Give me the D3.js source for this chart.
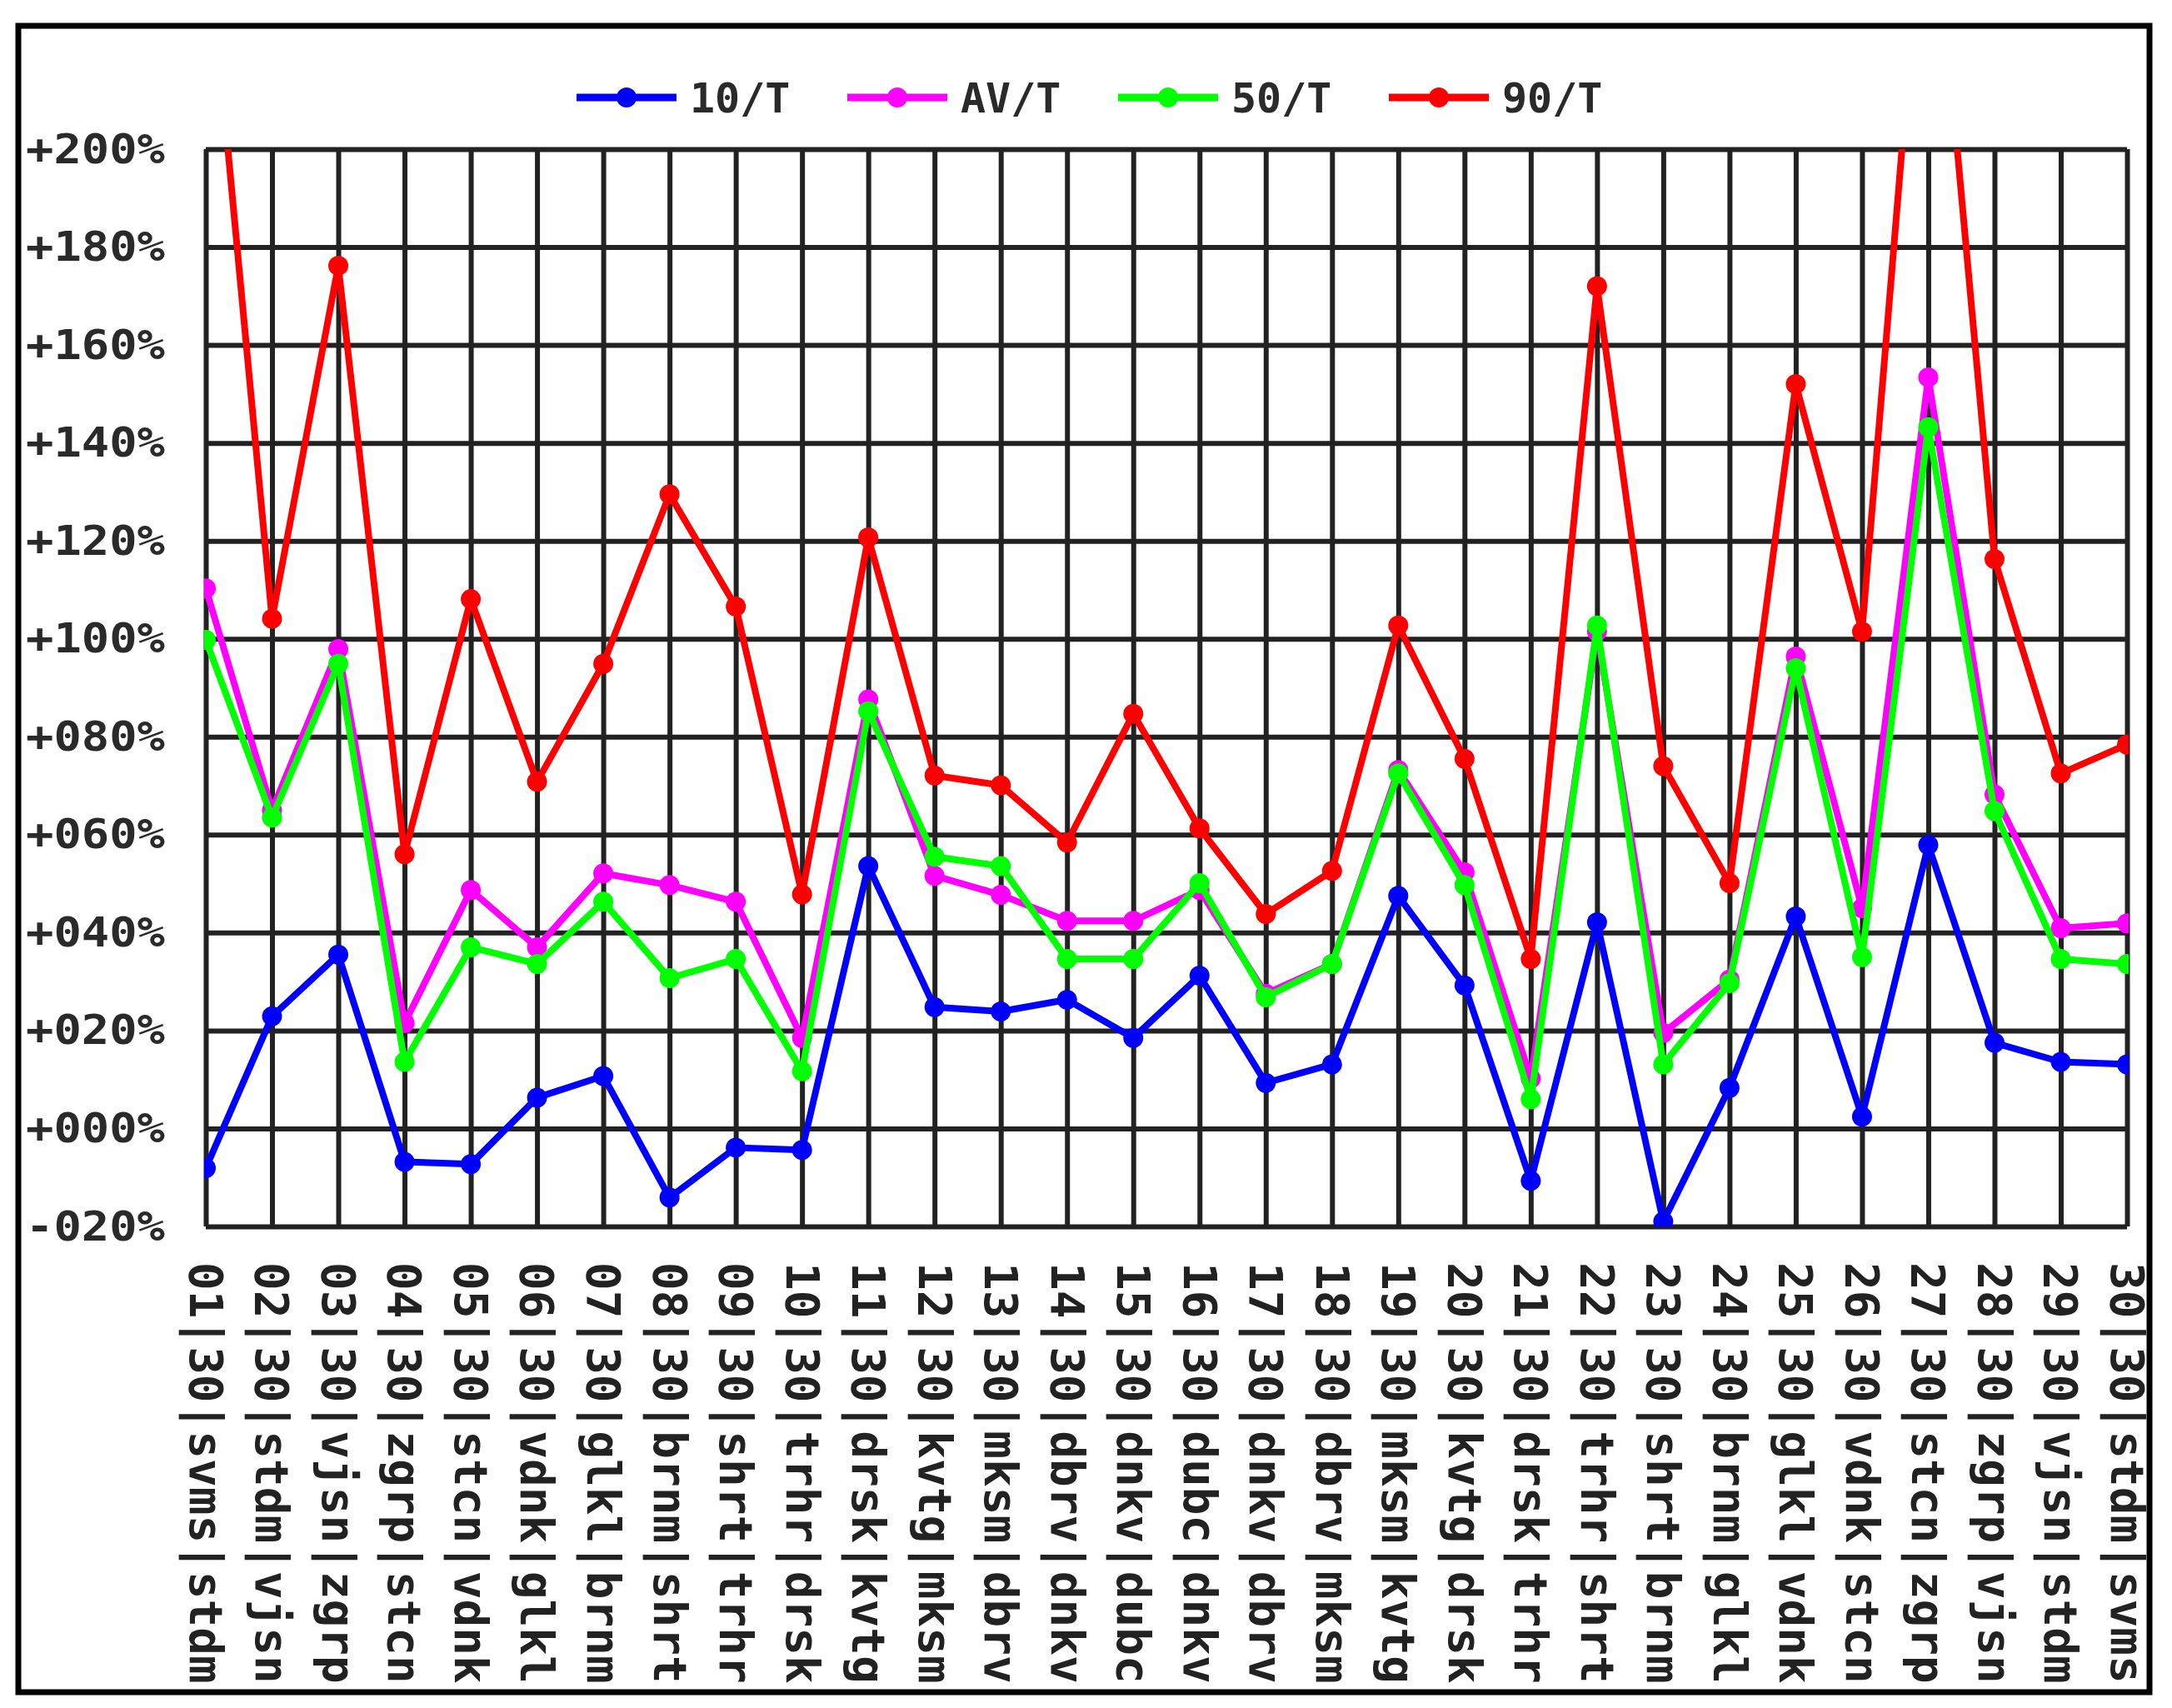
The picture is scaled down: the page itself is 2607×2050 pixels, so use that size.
<!DOCTYPE html>
<html>
<head>
<meta charset="utf-8">
<script src="https://cdn.jsdelivr.net/npm/d3@7"></script>
<style>
    body { margin: 0; background: #ffffff; }
    text { font-family: 'DejaVu Sans Mono', monospace; font-weight: bold; }
</style>
</head>
<body>
<svg id="chart"></svg>
<script>
const categories = [
    '01|30|svms|stdm', '02|30|stdm|vjsn', '03|30|vjsn|zgrp', '04|30|zgrp|stcn', '05|30|stcn|vdnk',
    '06|30|vdnk|glkl', '07|30|glkl|brnm', '08|30|brnm|shrt', '09|30|shrt|trhr', '10|30|trhr|drsk',
    '11|30|drsk|kvtg', '12|30|kvtg|mksm', '13|30|mksm|dbrv', '14|30|dbrv|dnkv', '15|30|dnkv|dubc',
    '16|30|dubc|dnkv', '17|30|dnkv|dbrv', '18|30|dbrv|mksm', '19|30|mksm|kvtg', '20|30|kvtg|drsk',
    '21|30|drsk|trhr', '22|30|trhr|shrt', '23|30|shrt|brnm', '24|30|brnm|glkl', '25|30|glkl|vdnk',
    '26|30|vdnk|stcn', '27|30|stcn|zgrp', '28|30|zgrp|vjsn', '29|30|vjsn|stdm', '30|30|stdm|svms'
];

const seriesNames = ['10/T', 'AV/T', '50/T', '90/T'];
const seriesColors = ['#0000ff', '#ff00ff', '#00ff00', '#ff0000'];

const p10 = [-8.1, 22.9, 35.5, -6.8, -7.3, 6.3, 10.7, -14.1, -3.9, -4.4,
    53.6, 24.8, 23.9, 26.3, 18.5, 31.2, 9.3, 13.1, 47.5, 29.2,
    -10.7, 42.1, -19.0, 8.3, 43.3, 2.4, 57.9, 17.5, 13.6, 13.1];
const pAV = [110.3, 65.0, 97.9, 21.5, 48.7, 37.0, 52.1, 49.7, 46.3, 18.5,
    87.6, 51.6, 47.7, 42.4, 42.4, 48.7, 27.5, 33.6, 73.2, 52.3,
    10.2, 101.5, 19.5, 30.4, 96.4, 45.0, 153.4, 68.2, 40.9, 41.9];
const p50 = [99.8, 63.5, 94.9, 13.6, 37.0, 33.6, 46.3, 30.7, 34.6, 11.7,
    85.2, 55.5, 53.6, 34.6, 34.6, 50.1, 26.8, 33.6, 72.5, 49.7,
    6.0, 102.7, 13.1, 29.7, 94.0, 35.0, 143.2, 64.8, 34.6, 33.6];
const p90 = [248.0, 104.1, 176.2, 56.0, 108.1, 70.8, 94.9, 129.5, 106.6, 47.8,
    120.7, 72.1, 70.1, 58.4, 84.7, 61.3, 43.8, 52.6, 102.7, 75.5,
    34.6, 172.0, 74.0, 50.1, 152.0, 101.5, 265.0, 116.3, 72.5, 78.4];

const yTicks = [-20, 0, 20, 40, 60, 80, 100, 120, 140, 160, 180, 200];

class PercentLineChart {

    constructor( config, series ){
        this.config = {
            parent: config.parent,
            width: config.width || 256,
            height: config.height || 256,
            margin: config.margin || {top:10, right:10, bottom:10, left:10}
        }
        this.series = series;
        this.init();
    }

    init(){
        let self = this;

        self.svg = d3.select( self.config.parent )
            .attr('width', self.config.width)
            .attr('height', self.config.height);

        // outer frame
        self.svg.append('rect')
            .attr('x', 22)
            .attr('y', 31)
            .attr('width', 2558)
            .attr('height', 2000)
            .attr('fill', 'none')
            .attr('stroke', '#000')
            .attr('stroke-width', 7);

        self.chart = self.svg.append('g')
            .attr('transform', `translate(${self.config.margin.left}, ${self.config.margin.top})`);

        self.inner_width = self.config.width - self.config.margin.left - self.config.margin.right;
        self.inner_height = self.config.height - self.config.margin.top - self.config.margin.bottom;

        self.xscale = d3.scalePoint()
            .domain( categories )
            .range( [0, self.inner_width] );

        self.yscale = d3.scaleLinear()
            .domain( [-20, 200] )
            .range( [self.inner_height, 0] );

        self.xaxis = d3.axisBottom( self.xscale )
            .tickSize( -self.inner_height )
            .tickPadding( 43 );

        self.yaxis = d3.axisLeft( self.yscale )
            .tickValues( yTicks )
            .tickSize( -self.inner_width )
            .tickPadding( 49 )
            .tickFormat( d => (d < 0 ? '-' : '+') + String(Math.abs(d)).padStart(3, '0') + '%' );

        self.svg.append('clipPath')
            .attr('id', 'plot-clip')
            .append('rect')
            .attr('x', -2)
            .attr('y', 0)
            .attr('width', self.inner_width + 4)
            .attr('height', self.inner_height);

        self.legend = self.svg.append('g')
            .attr('transform', 'translate(692, 117)');
    }

    render(){
        let self = this;

        const ygroup = self.chart.append('g').call( self.yaxis );
        ygroup.select('.domain').remove();
        ygroup.selectAll('line')
            .attr('stroke', '#222')
            .attr('stroke-width', 6);
        ygroup.selectAll('text')
            .attr('fill', '#2a2a2a')
            .style('font-size', '50px')
            .attr('textLength', 167)
            .attr('lengthAdjust', 'spacingAndGlyphs');

        const xgroup = self.chart.append('g')
            .attr('transform', `translate(0, ${self.inner_height})`)
            .call( self.xaxis );
        xgroup.select('.domain').remove();
        xgroup.selectAll('line')
            .attr('stroke', '#222')
            .attr('stroke-width', 6);
        xgroup.selectAll('text')
            .attr('fill', '#222')
            .style('font-size', '56px')
            .attr('text-anchor', 'start')
            .attr('transform', 'rotate(90)')
            .attr('x', 43)
            .attr('y', 0)
            .attr('dy', '0.35em');

        const line = d3.line()
            .x( (d, i) => self.xscale(categories[i]) )
            .y( d => self.yscale(d) );

        const plot = self.chart.append('g')
            .attr('clip-path', 'url(#plot-clip)');

        self.series.forEach( s => {
            plot.append('path')
                .attr('d', line(s.values))
                .attr('fill', 'none')
                .attr('stroke', s.color)
                .attr('stroke-width', 8)
                .attr('stroke-linejoin', 'round');

            plot.selectAll(null)
                .data(s.values)
                .enter()
                .append('circle')
                .attr('cx', (d, i) => self.xscale(categories[i]))
                .attr('cy', d => self.yscale(d))
                .attr('r', 12)
                .attr('fill', s.color);
        });

        // legend
        const item = self.legend.selectAll('g')
            .data(self.series)
            .join('g')
            .attr('transform', (d, i) => `translate(${i * 325}, 0)`);

        item.append('line')
            .attr('x1', 0)
            .attr('x2', 120)
            .attr('stroke', d => d.color)
            .attr('stroke-width', 9);

        item.append('circle')
            .attr('cx', 60)
            .attr('r', 12)
            .attr('fill', d => d.color);

        item.append('text')
            .attr('x', 136)
            .attr('dy', '0.36em')
            .attr('fill', '#2a2a2a')
            .style('font-size', '50px')
            .text(d => d.name);
    }
}

const series = [p10, pAV, p50, p90].map( (v, i) => ({
    name: seriesNames[i],
    color: seriesColors[i],
    values: v
}));

const chart = new PercentLineChart({
    parent: '#chart',
    width: 2607,
    height: 2050,
    margin: {top: 179, right: 54, bottom: 578, left: 247}
}, series);
chart.render();
</script>
</body>
</html>
